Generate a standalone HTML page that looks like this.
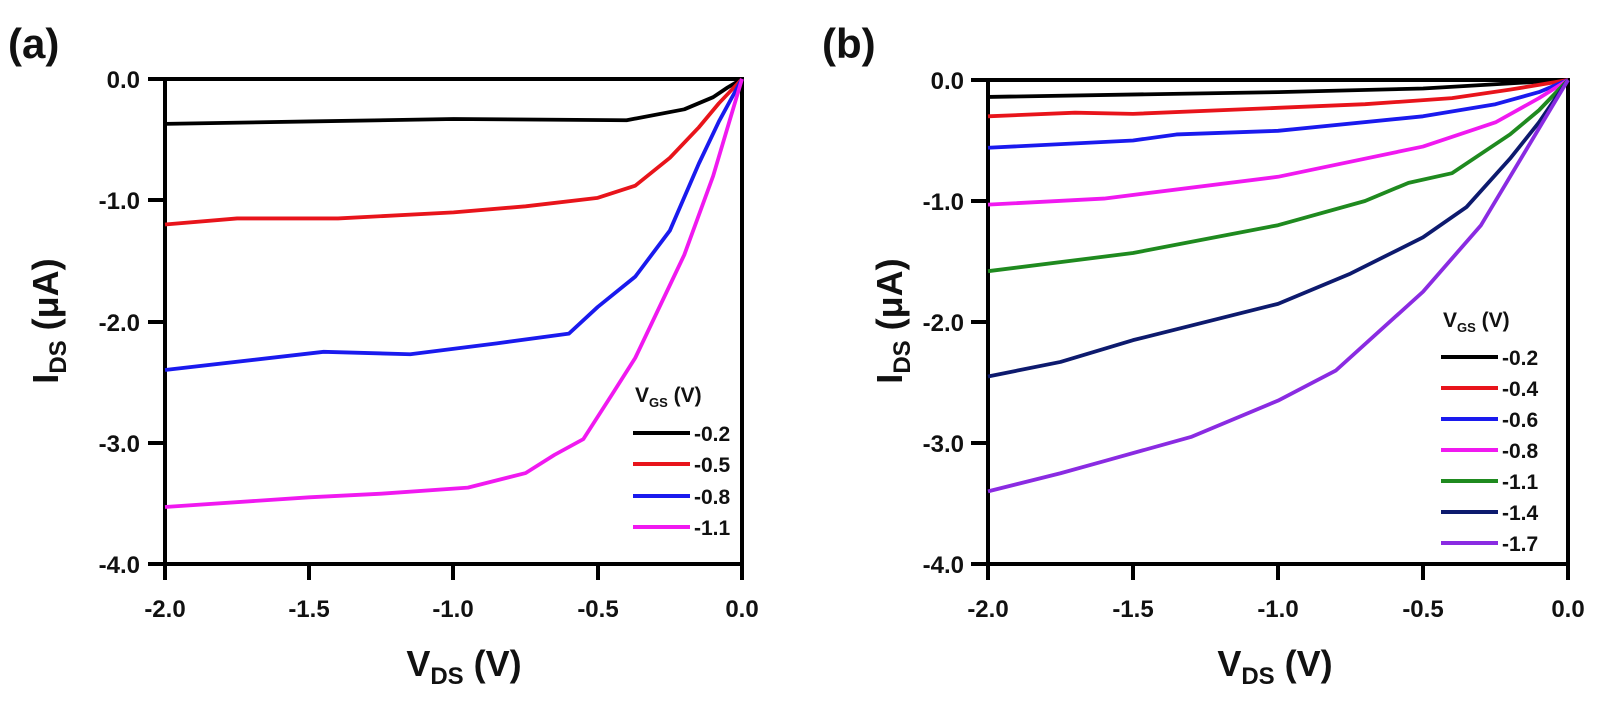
<!DOCTYPE html>
<html><head><meta charset="utf-8"><style>
body{margin:0;background:#fff;}
svg{display:block;font-family:"Liberation Sans",sans-serif;font-weight:bold;}
</style></head><body>
<svg width="1600" height="702" viewBox="0 0 1600 702" xmlns="http://www.w3.org/2000/svg">
<g fill="#111">
<text x="8" y="58" font-size="42">(a)</text>
<text x="822" y="58" font-size="42">(b)</text>
</g>
<!-- Panel A -->
<g stroke="#000" stroke-width="4" fill="none">
<line x1="148" y1="79" x2="744" y2="79"/>
<line x1="165" y1="77" x2="165" y2="580"/>
<line x1="742" y1="77" x2="742" y2="580"/>
<line x1="148" y1="564" x2="744" y2="564"/>
<line x1="148" y1="200" x2="165" y2="200"/>
<line x1="148" y1="322" x2="165" y2="322"/>
<line x1="148" y1="443" x2="165" y2="443"/>
<line x1="309" y1="564" x2="309" y2="580"/>
<line x1="453" y1="564" x2="453" y2="580"/>
<line x1="598" y1="564" x2="598" y2="580"/>
</g>
<g font-size="24" fill="#111" text-anchor="end">
<text x="140" y="88">0.0</text><text x="140" y="209">-1.0</text><text x="140" y="331">-2.0</text><text x="140" y="452">-3.0</text><text x="140" y="573">-4.0</text>
</g>
<g font-size="24" fill="#111" text-anchor="middle">
<text x="165" y="617">-2.0</text><text x="309" y="617">-1.5</text><text x="453" y="617">-1.0</text><text x="598" y="617">-0.5</text><text x="742" y="617">0.0</text>
</g>
<text x="464" y="676" font-size="36" text-anchor="middle" fill="#111">V<tspan font-size="24" dy="8">DS</tspan><tspan dy="-8"> (V)</tspan></text>
<text transform="translate(58,321) rotate(-90)" font-size="36" text-anchor="middle" fill="#111">I<tspan font-size="24" dy="8">DS</tspan><tspan dy="-8"> (μA)</tspan></text>
<g transform="translate(742,79) scale(288.5,-121.25)" fill="none" stroke-width="3.8" stroke-linejoin="round">
<polyline vector-effect="non-scaling-stroke" stroke="#000" points="-2,-0.37 -1.5,-0.35 -1,-0.33 -0.4,-0.34 -0.2,-0.25 -0.1,-0.15 -0.05,-0.07 0,0"/>
<polyline vector-effect="non-scaling-stroke" stroke="#e8141b" points="-2,-1.2 -1.75,-1.15 -1.4,-1.15 -1,-1.1 -0.75,-1.05 -0.5,-0.98 -0.37,-0.88 -0.25,-0.65 -0.15,-0.4 -0.08,-0.2 0,0"/>
<polyline vector-effect="non-scaling-stroke" stroke="#1a1aee" points="-2,-2.4 -1.45,-2.25 -1.15,-2.27 -0.85,-2.18 -0.6,-2.1 -0.5,-1.88 -0.37,-1.63 -0.25,-1.25 -0.15,-0.7 -0.08,-0.35 0,0"/>
<polyline vector-effect="non-scaling-stroke" stroke="#f019f0" points="-2,-3.53 -1.5,-3.45 -1.25,-3.42 -0.95,-3.37 -0.75,-3.25 -0.65,-3.1 -0.55,-2.97 -0.45,-2.6 -0.37,-2.3 -0.25,-1.7 -0.2,-1.45 -0.1,-0.8 -0.05,-0.4 0,0"/>
</g>
<text x="635" y="402" font-size="21" fill="#111">V<tspan font-size="13" dy="5">GS</tspan><tspan dy="-5"> (V)</tspan></text>
<g stroke-width="4">
<line x1="633" y1="433" x2="690" y2="433" stroke="#000"/>
<line x1="633" y1="464" x2="690" y2="464" stroke="#e8141b"/>
<line x1="633" y1="496" x2="690" y2="496" stroke="#1a1aee"/>
<line x1="633" y1="527" x2="690" y2="527" stroke="#f019f0"/>
</g>
<g font-size="21" fill="#111">
<text x="694" y="441">-0.2</text><text x="694" y="472">-0.5</text><text x="694" y="504">-0.8</text><text x="694" y="535">-1.1</text>
</g>
<!-- Panel B -->
<g stroke="#000" stroke-width="4" fill="none">
<line x1="971" y1="80" x2="1570" y2="80"/>
<line x1="988" y1="78" x2="988" y2="580"/>
<line x1="1568" y1="78" x2="1568" y2="580"/>
<line x1="971" y1="564" x2="1570" y2="564"/>
<line x1="971" y1="201" x2="988" y2="201"/>
<line x1="971" y1="322" x2="988" y2="322"/>
<line x1="971" y1="443" x2="988" y2="443"/>
<line x1="1133" y1="564" x2="1133" y2="580"/>
<line x1="1278" y1="564" x2="1278" y2="580"/>
<line x1="1423" y1="564" x2="1423" y2="580"/>
</g>
<g font-size="24" fill="#111" text-anchor="end">
<text x="964" y="89">0.0</text><text x="964" y="210">-1.0</text><text x="964" y="331">-2.0</text><text x="964" y="452">-3.0</text><text x="964" y="573">-4.0</text>
</g>
<g font-size="24" fill="#111" text-anchor="middle">
<text x="988" y="617">-2.0</text><text x="1133" y="617">-1.5</text><text x="1278" y="617">-1.0</text><text x="1423" y="617">-0.5</text><text x="1568" y="617">0.0</text>
</g>
<text x="1275" y="676" font-size="36" text-anchor="middle" fill="#111">V<tspan font-size="24" dy="8">DS</tspan><tspan dy="-8"> (V)</tspan></text>
<text transform="translate(902,321) rotate(-90)" font-size="36" text-anchor="middle" fill="#111">I<tspan font-size="24" dy="8">DS</tspan><tspan dy="-8"> (μA)</tspan></text>
<g transform="translate(1568,80) scale(290,-121)" fill="none" stroke-width="3.8" stroke-linejoin="round">
<polyline vector-effect="non-scaling-stroke" stroke="#000" points="-2,-0.14 -1,-0.1 -0.5,-0.07 0,0"/>
<polyline vector-effect="non-scaling-stroke" stroke="#e8141b" points="-2,-0.3 -1.7,-0.27 -1.5,-0.28 -1,-0.23 -0.7,-0.2 -0.4,-0.15 -0.2,-0.08 0,0"/>
<polyline vector-effect="non-scaling-stroke" stroke="#1a1aee" points="-2,-0.56 -1.5,-0.5 -1.35,-0.45 -1,-0.42 -0.5,-0.3 -0.25,-0.2 -0.1,-0.1 0,0"/>
<polyline vector-effect="non-scaling-stroke" stroke="#f019f0" points="-2,-1.03 -1.6,-0.98 -1,-0.8 -0.5,-0.55 -0.25,-0.35 -0.1,-0.15 0,0"/>
<polyline vector-effect="non-scaling-stroke" stroke="#1f8a1f" points="-2,-1.58 -1.5,-1.43 -1,-1.2 -0.7,-1 -0.55,-0.85 -0.4,-0.77 -0.2,-0.45 -0.1,-0.25 0,0"/>
<polyline vector-effect="non-scaling-stroke" stroke="#0d1a6e" points="-2,-2.45 -1.75,-2.33 -1.5,-2.15 -1,-1.85 -0.75,-1.6 -0.5,-1.3 -0.35,-1.05 -0.2,-0.65 -0.1,-0.35 0,0"/>
<polyline vector-effect="non-scaling-stroke" stroke="#8a2be2" points="-2,-3.4 -1.75,-3.25 -1.6,-3.15 -1.3,-2.95 -1,-2.65 -0.8,-2.4 -0.5,-1.75 -0.3,-1.2 -0.15,-0.6 -0.05,-0.2 0,0"/>
</g>
<text x="1443" y="327" font-size="21" fill="#111">V<tspan font-size="13" dy="5">GS</tspan><tspan dy="-5"> (V)</tspan></text>
<g stroke-width="4">
<line x1="1441" y1="357" x2="1498" y2="357" stroke="#000"/>
<line x1="1441" y1="388" x2="1498" y2="388" stroke="#e8141b"/>
<line x1="1441" y1="419" x2="1498" y2="419" stroke="#1a1aee"/>
<line x1="1441" y1="450" x2="1498" y2="450" stroke="#f019f0"/>
<line x1="1441" y1="481" x2="1498" y2="481" stroke="#1f8a1f"/>
<line x1="1441" y1="512" x2="1498" y2="512" stroke="#0d1a6e"/>
<line x1="1441" y1="543" x2="1498" y2="543" stroke="#8a2be2"/>
</g>
<g font-size="21" fill="#111">
<text x="1502" y="365">-0.2</text><text x="1502" y="396">-0.4</text><text x="1502" y="427">-0.6</text><text x="1502" y="458">-0.8</text><text x="1502" y="489">-1.1</text><text x="1502" y="520">-1.4</text><text x="1502" y="551">-1.7</text>
</g>
</svg>
</body></html>
